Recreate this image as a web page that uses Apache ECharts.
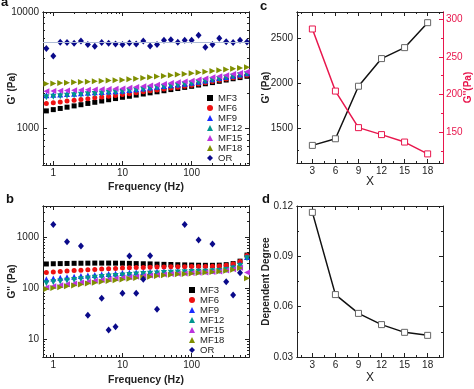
<!DOCTYPE html>
<html><head><meta charset="utf-8">
<script src="https://cdn.jsdelivr.net/npm/echarts@6/dist/echarts.min.js"></script>
<style>html,body{margin:0;padding:0;background:#fff}#c{width:474px;height:389px}</style>
</head><body><div id="c"></div><script>
// ---------- data ----------
const freq = [0.794,1,1.26,1.58,2,2.51,3.16,3.98,5.01,6.31,7.94,10,12.6,15.8,20,25.1,31.6,39.8,50.1,63.1,79.4,100,126,158,200,251,316,398,501,631];
const seriesNames = ['MF3','MF6','MF9','MF12','MF15','MF18','OR'];
// panel a: G' (Pa)
const a_MF3 = [1416,1452,1486,1524,1563,1600,1641,1679,1722,1766,1807,1854,1892,1936,1977,2023,2065,2109,2158,2203,2254,2301,2360,2421,2477,2541,2606,2673,2735,2805];
const a_MF6 = [1637,1663,1690,1718,1746,1774,1803,1832,1862,1892,1923,1954,1991,2028,2065,2104,2143,2183,2223,2265,2307,2350,2410,2466,2529,2594,2661,2729,2793,2864];
const a_MF9 = [1928,1945,1959,1977,1991,2009,2023,2042,2056,2075,2089,2109,2143,2173,2208,2244,2280,2317,2355,2388,2427,2466,2523,2582,2649,2710,2773,2838,2911,2979];
const a_MF12 = [1853,1871,1888,1910,1928,1945,1963,1982,2000,2023,2042,2061,2094,2128,2163,2198,2234,2270,2307,2344,2382,2421,2477,2535,2600,2661,2723,2786,2858,2924];
const a_MF15 = [2089,2099,2109,2118,2128,2138,2153,2163,2173,2183,2193,2203,2239,2270,2307,2344,2377,2415,2455,2495,2529,2570,2630,2685,2748,2812,2871,2938,3000,3069];
const a_MF18 = [2420,2438,2455,2472,2489,2506,2523,2541,2559,2576,2594,2612,2649,2679,2716,2754,2793,2825,2864,2904,2938,2979,3027,3069,3119,3162,3214,3258,3311,3357];
const a_OR = [4850,4190,5500,5460,5380,5640,5250,5070,5460,5380,5310,5250,5420,5310,5640,5110,5270,5710,5790,5500,5710,5710,6310,4980,5250,5940,5560,5460,5710,5520];
const a_ORline = 5460;
// panel b: G'' (Pa)
const b_MF3 = [295,298,300,302,304,305,306,307,307,307,306,305,303,300,298,296,293,290,288,285,283,281,279,278,278,280,286,300,335,440];
const b_MF6 = [200,205,210,215,219,223,227,231,235,238,242,245,248,251,253,255,257,258,259,260,261,262,263,264,266,270,278,295,330,430];
const b_MF9 = [148,153,158,163,167,172,176,180,184,188,192,196,199,202,204,206,208,210,211,212,213,214,216,218,221,226,235,255,290,405];
const b_MF12 = [124,129,134,139,144,149,154,159,164,168,172,176,180,184,187,190,193,196,199,201,203,205,207,209,212,216,224,240,270,380];
const b_MF15 = [103,108,113,118,123,128,133,138,143,148,153,158,163,167,171,175,179,183,187,190,193,196,199,202,206,211,219,232,250,200];
const b_MF18 = [96,100,104,108,112,117,122,127,132,137,142,147,152,157,162,167,172,177,181,185,189,193,197,201,205,210,217,228,245,155];
const b_OR = [null,1745,null,800,null,659,29.4,null,63,15.2,17.6,79,421,79,148,426,38.5,null,null,null,1745,null,863,null,721,null,133,73,199,null];
// panels c, d
const X = [3,6,9,12,15,18];
const c_Gp = [1304,1378,1963,2271,2393,2671];
const c_Gpp = [286.6,204.8,156.6,147.4,137.6,122];
const d_deg = [0.1162,0.0672,0.056,0.0493,0.0447,0.0429];
// tick positions
const freqMajor = [1,10,100];
const freqMinor = [0.8,0.9,2,3,4,5,6,7,8,9,20,30,40,50,60,70,80,90,200,300,400,500,600];
const aYMajor = [1000,10000];
const aYMinor = [500,600,700,800,900,2000,3000,4000,5000,6000,7000,8000,9000];
const bYMajor = [10,100,1000];
const bYMinor = [5,6,7,8,9,20,30,40,50,60,70,80,90,200,300,400,500,600,700,800,900,2000,3000];
const xMajor = [3,6,9,12,15,18];
const xMinor = [1.5,4.5,7.5,10.5,13.5,16.5,19.5];
const cLMajor = [1500,2000,2500];
const cLMinor = [1250,1750,2250,2750];
const cRMajor = [150,200,250,300];
const cRMinor = [125,175,225,275];

// ---------- styles ----------
const FONT = 'Liberation Sans, Arial, sans-serif';
const AX = '#222';
const RED = '#e8174d';
const styles = {
  MF3: {symbol:'rect', size:5, color:'#000000', rot:0},
  MF6: {symbol:'circle', size:5, color:'#ee1111', rot:0},
  MF9: {symbol:'triangle', size:6, color:'#1a2cff', rot:0},
  MF12:{symbol:'triangle', size:6, color:'#00958f', rot:180},
  MF15:{symbol:'triangle', size:6, color:'#bb33dd', rot:90},
  MF18:{symbol:'triangle', size:6, color:'#7f8f00', rot:-90},
  OR:  {symbol:'diamond', size:[6,7], color:'#0a0a8a', rot:0}
};

function axis(o) {
  const col = o.color || AX;
  return {
    type: o.type || 'value', gridIndex: o.g, position: o.pos, min: o.min, max: o.max,
    interval: o.interval, logBase: 10, scale: true,
    axisLine: {show: true, onZero: false, lineStyle: {color: col, width: 1}},
    axisTick: {show: true, inside: true, length: o.len || 4, customValues: o.ticks, lineStyle: {color: col, width: 1}},
    minorTick: o.minor ? {show: true, splitNumber: o.minor, length: 2, lineStyle: {color: col}} : {show: false},
    axisLabel: o.labels ? {show: true, customValues: o.labelVals, color: col, fontSize: 10, fontFamily: FONT, margin: o.margin || 3,
      formatter: o.fmt || (v => String(v))} : {show: false},
    splitLine: {show: false},
    name: o.name || '', nameLocation: 'middle', nameGap: o.nameGap || 20, nameRotate: o.nameRotate,
    nameMoveOverlap: false,
    nameTextStyle: {color: o.nameColor || col, fontSize: o.nameSize || 10, fontWeight: o.nameWeight || 'bold', fontFamily: FONT}
  };
}

const grids = [
  {left: 43, top: 12, width: 206, height: 153},
  {left: 43, top: 206, width: 206, height: 151},
  {left: 297, top: 12, width: 146, height: 151},
  {left: 297, top: 206, width: 146, height: 151}
];

const xAxes = [];
const yAxes = [];
// panel a & b x-axes
[0,1].forEach(g => {
  xAxes.push(axis({type:'log', g, pos:'bottom', min:0.71, max:675, ticks:freqMajor, labels:true, labelVals:freqMajor, margin:3,
    name:'Frequency (Hz)', nameGap: g === 0 ? 17 : 18, nameSize:10.5}));
  xAxes.push(axis({type:'log', g, pos:'bottom', min:0.71, max:675, ticks:freqMinor, len:2}));
  xAxes.push(axis({type:'log', g, pos:'top', min:0.71, max:675, ticks:freqMajor}));
  xAxes.push(axis({type:'log', g, pos:'top', min:0.71, max:675, ticks:freqMinor, len:2}));
});
// panel c & d x-axes
[2,3].forEach(g => {
  xAxes.push(axis({g, pos:'bottom', min:1, max:20, ticks:xMajor, labels:true, labelVals:xMajor, margin:3,
    name:'X', nameGap: g === 2 ? 13 : 15, nameSize:12, nameWeight:'normal'}));
  xAxes.push(axis({g, pos:'bottom', min:1, max:20, ticks:xMinor, len:2}));
  xAxes.push(axis({g, pos:'top', min:1, max:20, ticks:xMajor}));
  xAxes.push(axis({g, pos:'top', min:1, max:20, ticks:xMinor, len:2}));
});
// panel a y
yAxes.push(axis({type:'log', g:0, pos:'left', min:486, max:10000, ticks:aYMajor, labels:true, labelVals:aYMajor, margin:4,
  name:"G' (Pa)", nameGap:26, nameRotate:90}));
yAxes.push(axis({type:'log', g:0, pos:'left', min:486, max:10000, ticks:aYMinor, len:2}));
yAxes.push(axis({type:'log', g:0, pos:'right', min:486, max:10000, ticks:aYMajor}));
yAxes.push(axis({type:'log', g:0, pos:'right', min:486, max:10000, ticks:aYMinor, len:2}));
// panel b y
yAxes.push(axis({type:'log', g:1, pos:'left', min:4.5, max:4000, ticks:bYMajor, labels:true, labelVals:bYMajor, margin:4,
  name:"G'' (Pa)", nameGap:26, nameRotate:90}));
yAxes.push(axis({type:'log', g:1, pos:'left', min:4.5, max:4000, ticks:bYMinor, len:2}));
yAxes.push(axis({type:'log', g:1, pos:'right', min:4.5, max:4000, ticks:bYMajor}));
yAxes.push(axis({type:'log', g:1, pos:'right', min:4.5, max:4000, ticks:bYMinor, len:2}));
// panel c y
yAxes.push(axis({g:2, pos:'left', min:1108, max:2790, ticks:cLMajor, labels:true, labelVals:cLMajor, margin:4,
  name:"G' (Pa)", nameGap:26, nameRotate:90}));
yAxes.push(axis({g:2, pos:'left', min:1108, max:2790, ticks:cLMinor, len:2}));
yAxes.push(axis({g:2, pos:'right', min:110, max:309, ticks:cRMajor, labels:true, labelVals:cRMajor, margin:3, color:RED,
  name:"G''(Pa)", nameGap:20, nameRotate:90}));
yAxes.push(axis({g:2, pos:'right', min:110, max:309, ticks:cRMinor, len:2, color:RED}));
// panel d y
yAxes.push(axis({g:3, pos:'left', min:0.03, max:0.12, interval:0.03, minor:2, labels:true, margin:4,
  fmt: v => v.toFixed(2), name:'Dependent Degree', nameGap:26, nameRotate:90}));
yAxes.push(axis({g:3, pos:'right', min:0.03, max:0.12, interval:0.03, minor:2}));

const dataA = {MF3:a_MF3, MF6:a_MF6, MF9:a_MF9, MF12:a_MF12, MF15:a_MF15, MF18:a_MF18, OR:a_OR};
const dataB = {MF3:b_MF3, MF6:b_MF6, MF9:b_MF9, MF12:b_MF12, MF15:b_MF15, MF18:b_MF18, OR:b_OR};
function pairs(xs, ys) { const out = []; xs.forEach((x, i) => { if (ys[i] != null) out.push([x, ys[i]]); }); return out; }

const series = [];
function scatterSet(data, xi, yi) {
  seriesNames.forEach(n => {
    const s = styles[n];
    series.push({
      type:'scatter', name:n, xAxisIndex:xi, yAxisIndex:yi, data: pairs(freq, data[n]),
      symbol:s.symbol, symbolSize:s.size, symbolRotate:s.rot,
      itemStyle:{color:s.color, opacity:1}, emphasis:{disabled:true}, z: n === 'OR' ? 3 : 2
    });
  });
}
scatterSet(dataA, 0, 0);
series[6].markLine = {silent:true, symbol:'none', label:{show:false},
  lineStyle:{color:'#aebbd6', width:1, type:'solid'}, data:[{yAxis:a_ORline}]};
scatterSet(dataB, 4, 4);

function lineSer(name, xi, yi, ys, color, border) {
  return {type:'line', name, xAxisIndex:xi, yAxisIndex:yi, data: pairs(X, ys),
    symbol:'rect', symbolSize:6, showSymbol:true,
    lineStyle:{color, width:1.5}, itemStyle:{color:'#ffffff', borderColor:border, borderWidth:1},
    emphasis:{disabled:true}};
}
series.push(lineSer('c1', 8, 8, c_Gp, '#111111', '#666666'));
series.push(lineSer('c2', 8, 10, c_Gpp, RED, RED));
series.push(lineSer('d1', 12, 12, d_deg, '#111111', '#666666'));

function legend(left, top) {
  return {show:true, data:seriesNames, orient:'vertical', left, top, itemWidth:6, itemHeight:6, itemGap:0,
    selectedMode:false, padding:0,
    textStyle:{fontSize:9.5, lineHeight:9.7, fontFamily:FONT, color:'#222'}};
}

const chart = echarts.init(document.getElementById('c'), null, {renderer:'canvas'});
chart.setOption({
  animation:false,
  backgroundColor:'#ffffff',
  grid: grids,
  xAxis: xAxes,
  yAxis: yAxes,
  legend: [legend(207, 93), legend(189, 285)],
  series,
  graphic: [
    {type:'text', left:1, top:-4, style:{text:'a', font:'bold 13px '+FONT, fill:'#111'}},
    {type:'text', left:6, top:193, style:{text:'b', font:'bold 13px '+FONT, fill:'#111'}},
    {type:'text', left:260, top:0, style:{text:'c', font:'bold 13px '+FONT, fill:'#111'}},
    {type:'text', left:262, top:193, style:{text:'d', font:'bold 13px '+FONT, fill:'#111'}}
  ]
});
</script></body></html>
